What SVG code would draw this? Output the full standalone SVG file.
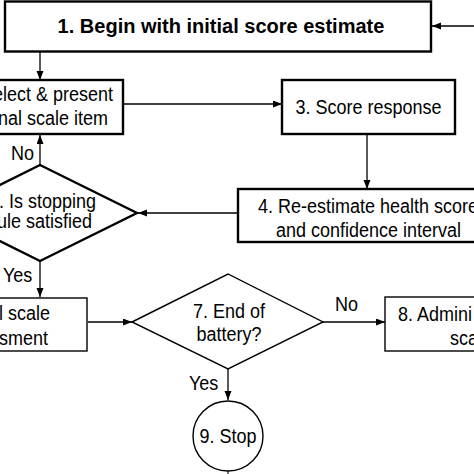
<svg xmlns="http://www.w3.org/2000/svg" width="474" height="474" viewBox="0 0 474 474">
<style>
text{font-family:"Liberation Sans",Arial,sans-serif;font-size:18px;fill:#000}
.b{font-weight:bold;font-size:20px}
.m{text-anchor:middle}
.e{text-anchor:end}
.thick{fill:#fff;stroke:#000;stroke-width:2.4}
.thin{fill:#fff;stroke:#000;stroke-width:1.4}
.c{fill:none;stroke:#000;stroke-width:1.3}
</style>
<defs>
<marker id="ah" markerUnits="userSpaceOnUse" markerWidth="10" markerHeight="8" refX="9" refY="3.5" orient="auto">
<path d="M0,0 L9,3.5 L0,7 z" fill="#000"/>
</marker>
</defs>
<rect width="474" height="474" fill="#fff"/>
<g id="connectors">
<path class="c" d="M475,26 H432" marker-end="url(#ah)"/>
<path class="c" d="M40,52 V80" marker-end="url(#ah)"/>
<path class="c" d="M124,104 H282" marker-end="url(#ah)"/>
<path class="c" d="M367,135 V189" marker-end="url(#ah)"/>
<path class="c" d="M238,213 H138" marker-end="url(#ah)"/>
<path class="c" d="M40,165 V135" marker-end="url(#ah)"/>
<path class="c" d="M40,261 V297" marker-end="url(#ah)"/>
<path class="c" d="M88,322 H132" marker-end="url(#ah)"/>
<path class="c" d="M323,322 H385" marker-end="url(#ah)"/>
<path class="c" d="M228,369 V400" marker-end="url(#ah)"/>
<path d="M228,471 V474" stroke="#777" stroke-width="2"/>
<text transform="translate(11,160) scale(1,1.1)">No</text>
<text transform="translate(3,282) scale(1,1.1)">Yes</text>
<text transform="translate(335,311) scale(1,1.1)">No</text>
<text transform="translate(189,390) scale(1,1.1)">Yes</text>
</g>
<g id="n1">
<rect class="thick" x="5" y="1.5" width="426" height="50"/>
<text class="b m" x="221" y="33">1. Begin with initial score estimate</text>
</g>
<g id="n2">
<rect class="thick" x="-20" y="80" width="143" height="54"/>
<text class="e" transform="translate(113,101) scale(1,1.1)">elect &amp; present</text>
<text class="e" transform="translate(108,125) scale(1,1.1)">nal scale item</text>
</g>
<g id="n3">
<rect class="thick" x="282" y="80" width="173" height="54"/>
<text class="m" transform="translate(368.5,114) scale(1,1.1)">3. Score response</text>
</g>
<g id="n4">
<rect class="thick" x="238" y="189" width="270" height="53"/>
<text transform="translate(258,213) scale(1,1.1)">4. Re-estimate health score</text>
<text class="m" transform="translate(368.5,237) scale(1,1.1)">and confidence interval</text>
</g>
<g id="n5">
<polygon class="thick" points="-57,213 40,165 137,213 40,261"/>
<text class="e" transform="translate(96,208) scale(1,1.1)">. Is stopping</text>
<text class="e" transform="translate(92,228) scale(1,1.1)">ule satisfied</text>
</g>
<g id="n6">
<rect class="thin" x="-20" y="298" width="107" height="53"/>
<text class="e" transform="translate(50,320) scale(1,1.1)">l scale</text>
<text class="e" transform="translate(48,345) scale(1,1.1)">sment</text>
</g>
<g id="n7">
<polygon class="thin" points="132,322 228,274 323,322 228,369"/>
<text class="m" transform="translate(229,318) scale(1,1.1)">7. End of</text>
<text class="m" transform="translate(229,341) scale(1,1.1)">battery?</text>
</g>
<g id="n8">
<rect class="thin" x="385" y="297" width="120" height="54"/>
<text transform="translate(398,321) scale(1,1.1)">8. Admini</text>
<text transform="translate(450,345) scale(1,1.1)">sca</text>
</g>
<g id="n9">
<circle class="thin" cx="228" cy="436" r="35"/>
<text class="m" transform="translate(228,443) scale(1,1.1)">9. Stop</text>
</g>
</svg>
